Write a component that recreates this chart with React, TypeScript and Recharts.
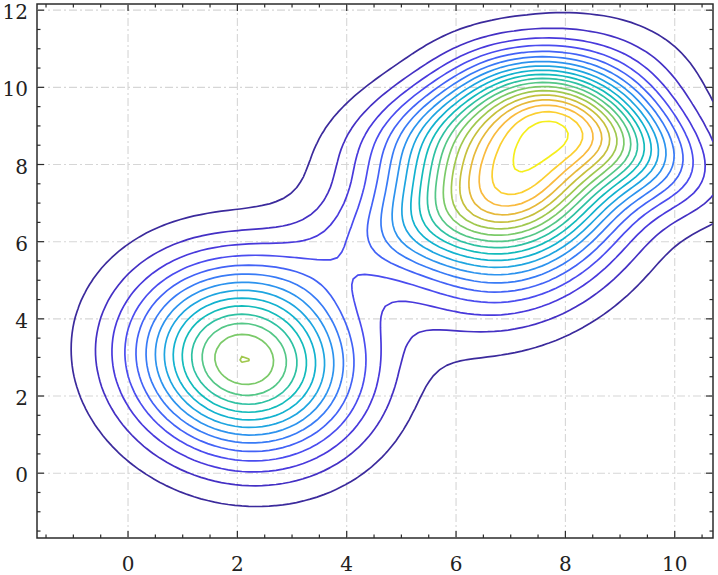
import React from 'react';
import { ComposedChart, Line, XAxis, YAxis, ReferenceLine, ReferenceArea } from 'recharts';

// ---- axes ----
const X_DOMAIN: [number, number] = [-1.665, 10.7];
const Y_DOMAIN: [number, number] = [-1.68, 12.16];
const X_TICKS = [-1.5, -1, -0.5, 0, 0.5, 1, 1.5, 2, 2.5, 3, 3.5, 4, 4.5, 5, 5.5, 6, 6.5, 7, 7.5, 8, 8.5, 9, 9.5, 10, 10.5];
const Y_TICKS = [-1.5, -1, -0.5, 0, 0.5, 1, 1.5, 2, 2.5, 3, 3.5, 4, 4.5, 5, 5.5, 6, 6.5, 7, 7.5, 8, 8.5, 9, 9.5, 10, 10.5, 11, 11.5, 12];
const X_LABELS = [0, 2, 4, 6, 8, 10];
const Y_LABELS = [0, 2, 4, 6, 8, 10, 12];

// ---- density surface: mixture components ----
const COMP_MEAN_X = [2.124, 8.659, 7.318, 6.082, 6.601];
const COMP_MEAN_Y = [2.936, 8.843, 7.306, 6.882, 9.041];
const COMP_SIGMA_X = [1.377, 1.308, 1.38, 1.728, 1.519];
const COMP_SIGMA_Y = [1.653, 1.149, 1.879, 1.189, 1.152];
const COMP_RHO = [-0.073, -0.6, 0.253, 0.578, 0.376];
const COMP_PEAK = [14.011, 5.95, 12.6, 4.837, 7.85];

// ---- contour levels and their colours ----
const LEVELS = [1, 2, 3, 4, 5, 6, 7, 8, 9, 10, 11, 12, 13, 14, 15, 16, 17, 18, 19];
const LEVEL_COLORS = [
  '#3b2a9c', '#4430c4', '#4839dc', '#4a4cef', '#4262f6', '#387bf6', '#2c93ee', '#1ea5e0',
  '#12b2cf', '#13bbbb', '#2ec1a2', '#54c787', '#7bca69', '#a0c84e', '#c6c03c', '#e6b93a',
  '#f9ba3e', '#fbcf30', '#f5ee1c',
];
const GRID_SIZE = 100;

const PLOT = { left: 37, right: 713, top: 4, bottom: 538 };
const FONT = "'DejaVu Serif', serif";

function density(x: number, y: number): number {
  let s = 0;
  for (let c = 0; c < COMP_PEAK.length; c++) {
    const u = (x - COMP_MEAN_X[c]) / COMP_SIGMA_X[c];
    const v = (y - COMP_MEAN_Y[c]) / COMP_SIGMA_Y[c];
    const r = COMP_RHO[c];
    const q = (u * u - 2 * r * u * v + v * v) / (1 - r * r);
    s += COMP_PEAK[c] * Math.exp(-0.5 * q);
  }
  return s;
}

type Pt = { x: number; y: number };

function buildField() {
  const xs: number[] = [];
  const ys: number[] = [];
  for (let i = 0; i < GRID_SIZE; i++) {
    xs.push(X_DOMAIN[0] + ((X_DOMAIN[1] - X_DOMAIN[0]) * i) / (GRID_SIZE - 1));
    ys.push(Y_DOMAIN[0] + ((Y_DOMAIN[1] - Y_DOMAIN[0]) * i) / (GRID_SIZE - 1));
  }
  const f: number[][] = ys.map((y) => xs.map((x) => density(x, y)));
  return { xs, ys, f };
}

function contourLines(xs: number[], ys: number[], f: number[][], level: number): Pt[][] {
  const nx = xs.length;
  const ny = ys.length;
  const segs: [string, string][] = [];
  const pts = new Map<string, Pt>();
  const hKey = (i: number, j: number) => {
    const k = 'h' + i + ',' + j;
    if (!pts.has(k)) {
      const a = f[j][i], b = f[j][i + 1];
      const t = (level - a) / (b - a);
      pts.set(k, { x: xs[i] + t * (xs[i + 1] - xs[i]), y: ys[j] });
    }
    return k;
  };
  const vKey = (i: number, j: number) => {
    const k = 'v' + i + ',' + j;
    if (!pts.has(k)) {
      const a = f[j][i], b = f[j + 1][i];
      const t = (level - a) / (b - a);
      pts.set(k, { x: xs[i], y: ys[j] + t * (ys[j + 1] - ys[j]) });
    }
    return k;
  };
  for (let j = 0; j < ny - 1; j++) {
    for (let i = 0; i < nx - 1; i++) {
      const v0 = f[j][i], v1 = f[j][i + 1], v2 = f[j + 1][i + 1], v3 = f[j + 1][i];
      const code = (v0 > level ? 1 : 0) | (v1 > level ? 2 : 0) | (v2 > level ? 4 : 0) | (v3 > level ? 8 : 0);
      if (code === 0 || code === 15) continue;
      const B = () => hKey(i, j);
      const T = () => hKey(i, j + 1);
      const L = () => vKey(i, j);
      const R = () => vKey(i + 1, j);
      const center = (v0 + v1 + v2 + v3) / 4;
      switch (code) {
        case 1: case 14: segs.push([L(), B()]); break;
        case 2: case 13: segs.push([B(), R()]); break;
        case 3: case 12: segs.push([L(), R()]); break;
        case 4: case 11: segs.push([R(), T()]); break;
        case 6: case 9: segs.push([B(), T()]); break;
        case 7: case 8: segs.push([L(), T()]); break;
        case 5:
          if (center > level) { segs.push([B(), R()]); segs.push([L(), T()]); }
          else { segs.push([L(), B()]); segs.push([R(), T()]); }
          break;
        case 10:
          if (center > level) { segs.push([L(), B()]); segs.push([R(), T()]); }
          else { segs.push([B(), R()]); segs.push([L(), T()]); }
          break;
      }
    }
  }
  const adj = new Map<string, number[]>();
  segs.forEach(([a, b], k) => {
    if (!adj.has(a)) adj.set(a, []);
    if (!adj.has(b)) adj.set(b, []);
    adj.get(a)!.push(k);
    adj.get(b)!.push(k);
  });
  const used = new Array(segs.length).fill(false);
  const trace = (start: string): string[] => {
    const path = [start];
    let cur = start;
    for (;;) {
      const list = adj.get(cur) || [];
      const next = list.find((k) => !used[k]);
      if (next === undefined) break;
      used[next] = true;
      const [a, b] = segs[next];
      cur = a === cur ? b : a;
      path.push(cur);
    }
    return path;
  };
  const lines: Pt[][] = [];
  adj.forEach((list, key) => {
    if (list.length === 1 && !used[list[0]]) lines.push(trace(key).map((k) => pts.get(k)!));
  });
  segs.forEach((s, k) => {
    if (!used[k]) lines.push(trace(s[0]).map((kk) => pts.get(kk)!));
  });
  return lines;
}

function XTick(props: any) {
  const { x, payload } = props;
  const v = payload.value as number;
  const major = X_LABELS.includes(v);
  const len = major ? 7 : 3.5;
  return (
    <g>
      <line x1={x} x2={x} y1={PLOT.bottom} y2={PLOT.bottom - len} stroke="#2b2b2b" strokeWidth={1.2} />
      <line x1={x} x2={x} y1={PLOT.top} y2={PLOT.top + len} stroke="#2b2b2b" strokeWidth={1.2} />
      {major && (
        <text x={x} y={571} textAnchor="middle" fontFamily={FONT} fontSize={20} fill="#222">
          {String(v)}
        </text>
      )}
    </g>
  );
}

function YTick(props: any) {
  const { y, payload } = props;
  const v = payload.value as number;
  const major = Y_LABELS.includes(v);
  const len = major ? 7 : 3.5;
  return (
    <g>
      <line x1={PLOT.left} x2={PLOT.left + len} y1={y} y2={y} stroke="#2b2b2b" strokeWidth={1.2} />
      <line x1={PLOT.right} x2={PLOT.right - len} y1={y} y2={y} stroke="#2b2b2b" strokeWidth={1.2} />
      {major && (
        <text x={28} y={y + 9} textAnchor="end" fontFamily={FONT} fontSize={20} fill="#222">
          {String(v)}
        </text>
      )}
    </g>
  );
}

export default function App() {
  const { xs, ys, f } = buildField();
  const series: { key: string; color: string; data: Pt[] }[] = [];
  LEVELS.forEach((lv, li) => {
    contourLines(xs, ys, f, lv).forEach((pl, pi) => {
      series.push({ key: `c${li}-${pi}`, color: LEVEL_COLORS[li], data: pl });
    });
  });
  const gridStyle = { stroke: '#d6d6d6', strokeWidth: 1.1, strokeDasharray: '8 3 2 3' };
  return (
    <div style={{ position: 'absolute', left: 0, top: 0 }}>
      <ComposedChart width={718} height={575} margin={{ top: 4, right: 5, bottom: 0, left: 0 }}>
        {X_LABELS.map((v) => (
          <ReferenceLine key={'gx' + v} x={v} {...gridStyle} />
        ))}
        {Y_LABELS.map((v) => (
          <ReferenceLine key={'gy' + v} y={v} {...gridStyle} />
        ))}
        {series.map((s) => (
          <Line
            key={s.key}
            data={s.data}
            dataKey="y"
            type="linear"
            stroke={s.color}
            strokeWidth={1.7}
            dot={false}
            activeDot={false}
            isAnimationActive={false}
          />
        ))}
        <XAxis
          dataKey="x"
          type="number"
          domain={X_DOMAIN}
          allowDataOverflow
          ticks={X_TICKS}
          interval={0}
          height={37}
          tick={XTick}
          tickLine={false}
          axisLine={false}
        />
        <YAxis
          type="number"
          domain={Y_DOMAIN}
          allowDataOverflow
          ticks={Y_TICKS}
          interval={0}
          width={37}
          tick={YTick}
          tickLine={false}
          axisLine={false}
        />
        <ReferenceArea
          x1={X_DOMAIN[0]}
          x2={X_DOMAIN[1]}
          y1={Y_DOMAIN[0]}
          y2={Y_DOMAIN[1]}
          fill="none"
          fillOpacity={0}
          stroke="#2b2b2b"
          strokeWidth={1.5}
        />
      </ComposedChart>
    </div>
  );
}
